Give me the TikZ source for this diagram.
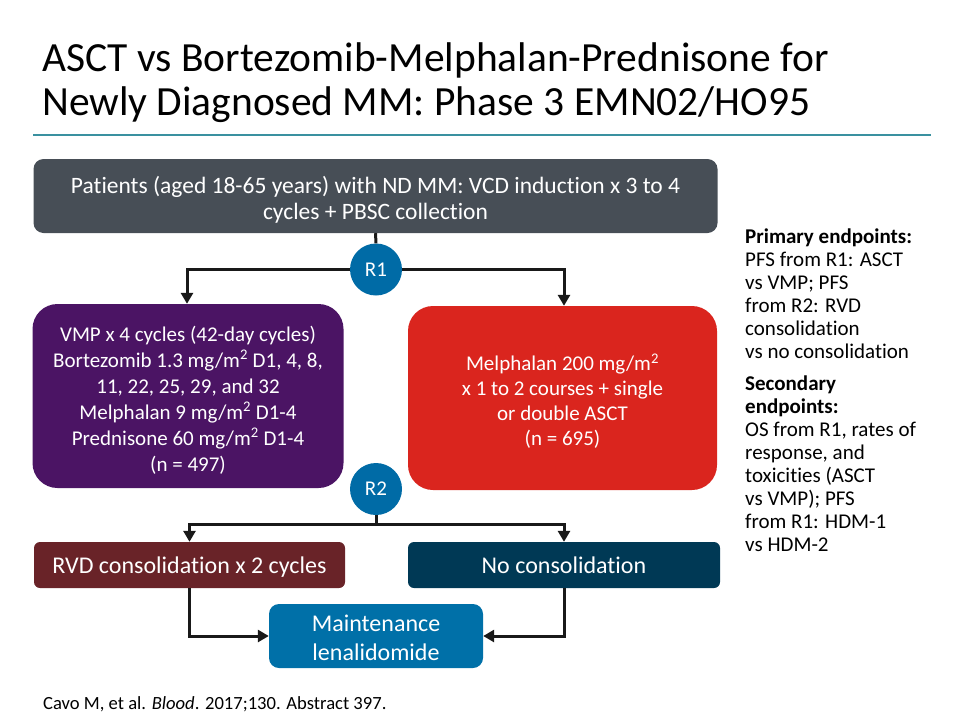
\documentclass[tikz,border=0pt]{standalone}
\usepackage{fontspec}
\setmainfont{Carlito}[Ligatures=NoCommon]
\usetikzlibrary{arrows.meta,positioning}
\definecolor{cgray}{RGB}{71,78,86}
\definecolor{cpurple}{RGB}{75,20,100}
\definecolor{cred}{RGB}{218,37,30}
\definecolor{ccirc}{RGB}{0,107,166}
\definecolor{crvd}{RGB}{105,35,40}
\definecolor{cnavy}{RGB}{0,57,85}
\definecolor{cmaint}{RGB}{0,112,168}
\definecolor{cteal}{RGB}{58,145,160}
\tikzset{
  box/.style={draw=none, text=white, align=center, inner sep=0pt},
  rcirc/.style={circle, fill=ccirc, text=white, inner sep=0pt, minimum size=52pt, font=\fontsize{21}{24}\selectfont},
  conn/.style={line width=3pt, draw=black!90},
  arr/.style={conn, -{Triangle[width=12pt,length=11pt]}},
}
\begin{document}
\begin{tikzpicture}[x=1pt,y=-1pt]
\useasboundingbox (0,0) rectangle (960,720);
% title
\node[anchor=north west, inner sep=0pt, align=left, font=\fontsize{41.5}{44}\selectfont] (title) at (42,42)
  {ASCT vs Bortezomib-Melphalan-Prednisone for\\Newly Diagnosed MM: Phase 3 EMN02/HO95};
\coordinate (rl) at (33,135);
\coordinate (rr) at (931,135);
\draw[cteal, line width=2pt] (rl) -- (rr);
% boxes
\node[box, fill=cgray, rounded corners=10pt, minimum width=684pt, minimum height=74pt] (top) at (375.5,196) {};
\node[box, font=\fontsize{23.5}{26}\selectfont] (toptext) at ([yshift=-4pt]top.center)
  {Patients (aged 18-65 years) with ND MM: VCD induction x 3 to 4\\cycles + PBSC collection};
\node[box, fill=cpurple, rounded corners=25pt, minimum width=311pt, minimum height=184pt] (left) at (188,396) {};
\node[box, font=\fontsize{21}{26}\selectfont] (lefttext) at ([yshift=-4pt]left.center)
  {VMP x 4 cycles (42-day cycles)\\Bortezomib 1.3 mg/m\textsuperscript{2} D1, 4, 8,\\11, 22, 25, 29, and 32\\Melphalan 9 mg/m\textsuperscript{2} D1-4\\Prednisone 60 mg/m\textsuperscript{2} D1-4\\(n = 497)};
\node[box, fill=cred, rounded corners=25pt, minimum width=309pt, minimum height=184pt] (right) at (562.5,398) {};
\node[box, font=\fontsize{21}{25}\selectfont] (righttext) at ([yshift=-3pt]right.center)
  {Melphalan 200 mg/m\textsuperscript{2}\\x 1 to 2 courses + single\\or double ASCT\\(n = 695)};
\node[box, fill=crvd, rounded corners=6pt, minimum width=311pt, minimum height=46pt] (rvd) at (189.5,565) {};
\node[box, anchor=base, font=\fontsize{24}{26}\selectfont] (rvdtext) at ([yshift=-8pt]rvd.center) {RVD consolidation x 2 cycles};
\node[box, fill=cnavy, rounded corners=6pt, minimum width=312pt, minimum height=46pt] (nocons) at (564,565) {};
\node[box, anchor=base, font=\fontsize{24}{26}\selectfont] (noconstext) at ([yshift=-8pt]nocons.center) {No consolidation};
\node[box, fill=cmaint, rounded corners=10pt, minimum width=214pt, minimum height=64pt] (maint) at (376,636) {};
\node[box, font=\fontsize{24}{29}\selectfont] (mainttext) at ([yshift=-2pt]maint.center) {Maintenance\\lenalidomide};
% randomisation circles
\node[rcirc] (R1) at (376,269.5) {R1};
\node[rcirc] (R2) at (376,489) {R2};
\coordinate (j2) at (376,524);
% connectors
\draw[conn] (top.south) -- (R1.north);
\draw[arr] (R1.west) -| ([xshift=-1pt]left.north);
\draw[arr] (R1.east) -| ([xshift=1.5pt]right.north);
\draw[conn] (R2.south) -- (j2);
\draw[arr] (j2) -| (rvd.north);
\draw[arr] (j2) -| (nocons.north);
\draw[arr] (rvd.south) |- (maint.west);
\draw[arr] (nocons.south) |- (maint.east);
% endpoints
\node[anchor=north west, inner sep=0pt, align=left, font=\fontsize{21}{23}\selectfont] (ep1) at (745,229)
  {\textbf{Primary endpoints:}\\PFS from R1: ASCT\\vs VMP; PFS\\from R2: RVD\\consolidation\\vs no consolidation};
\node[anchor=north west, inner sep=0pt, align=left, font=\fontsize{21}{23}\selectfont] (ep2) at (745,375.5)
  {\textbf{Secondary}\\\textbf{endpoints:}\\OS from R1, rates of\\response, and\\toxicities (ASCT\\vs VMP); PFS\\from R1: HDM-1\\vs HDM-2};
% footnote
\node[anchor=base west, inner sep=0pt, font=\fontsize{18.6}{21}\selectfont] (foot) at (43,709)
  {Cavo M, et al. \textit{Blood}. 2017;130. Abstract 397.};
\end{tikzpicture}
\end{document}
